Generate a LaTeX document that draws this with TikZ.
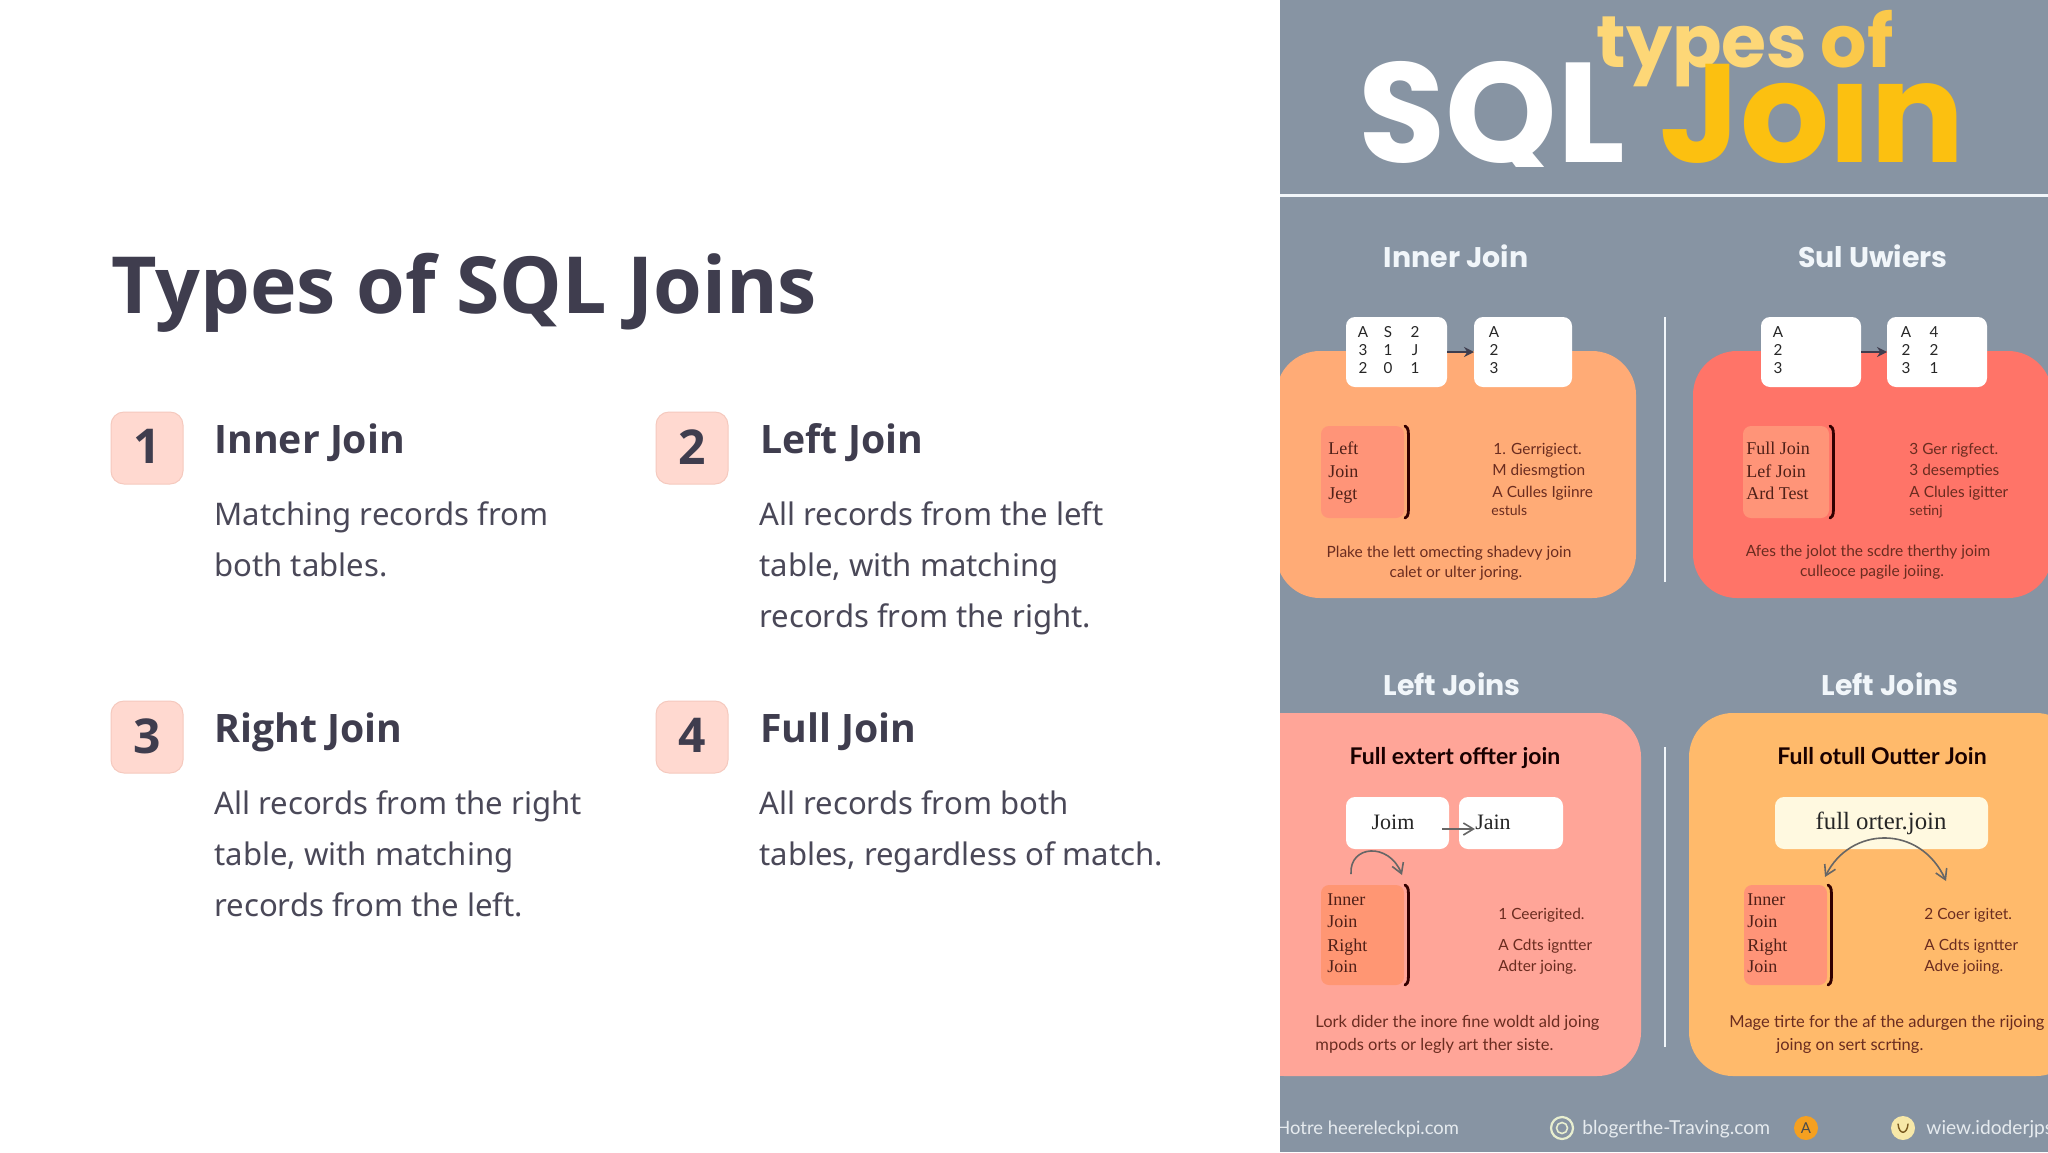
\documentclass[tikz,border=0pt]{standalone}
\usepackage{fontspec}
\usetikzlibrary{fit,arrows.meta,calc}
\setmainfont{Noto Sans}
\newfontfamily\boldf{Open Sans}
\newfontfamily\popf{Poppins}
\newfontfamily\latof{Lato}
\newfontfamily\serf{Liberation Serif}
\definecolor{slate}{HTML}{8794A3}
\definecolor{ink}{HTML}{3F3D4E}
\definecolor{bodyink}{HTML}{4A4858}
\definecolor{badgefill}{HTML}{FFD9D0}
\definecolor{badgeline}{HTML}{F5C9BE}
\definecolor{maroon}{HTML}{6A2C20}
\definecolor{tabink}{HTML}{4F2018}
\definecolor{headwhite}{HTML}{F1F6FA}
\definecolor{footink}{HTML}{E6EBEF}
\definecolor{cardA}{HTML}{FFAB76}
\definecolor{cardB}{HTML}{FF7468}
\definecolor{cardC}{HTML}{FFA598}
\definecolor{cardD}{HTML}{FFBA6B}
\definecolor{rectA}{HTML}{FF9478}
\definecolor{rectB}{HTML}{FF9478}
\definecolor{rectC}{HTML}{FF9673}
\definecolor{rectD}{HTML}{FF9478}
\definecolor{joinyel}{HTML}{FCC010}
\definecolor{typesyel}{HTML}{FDD777}
\definecolor{ofyel}{HTML}{FBC94A}
\definecolor{creambox}{HTML}{FFF9E0}
\definecolor{ringcol}{HTML}{E8EFD0}
\definecolor{orangedot}{HTML}{F5A020}
\definecolor{creamdot}{HTML}{F7E8A8}
\definecolor{smilecol}{HTML}{7A5A20}
\tikzset{
  x=0.5pt,y=-0.5pt,
  boxfit/.style={inner sep=0pt,outer sep=0pt,rectangle},
  card/.style={boxfit,rounded corners=22pt},
  wbox/.style={boxfit,fill=white,rounded corners=4.5pt},
  redrect/.style={boxfit,rounded corners=4pt},
  badge/.style={rectangle,rounded corners=6.5pt,fill=badgefill,draw=badgeline,line width=0.5pt,
    minimum width=36pt,minimum height=36pt,inner sep=0pt,text=ink,
    font=\boldf\fontsize{24}{24}\selectfont\bfseries},
  itemhead/.style={anchor=base west,inner sep=0pt,text=ink,font=\boldf\fontsize{19.6}{24}\selectfont\bfseries},
  itembody/.style={anchor=north west,inner sep=0pt,text=bodyink,align=left,
    font=\fontsize{15.55}{25.5}\selectfont},
  sechead/.style={anchor=base,inner sep=0pt,text=headwhite,font=\popf\fontsize{14.2}{16}\selectfont\bfseries},
  cardhead/.style={anchor=base,inner sep=0pt,text=black!90!red,font=\latof\fontsize{11.5}{13}\selectfont\bfseries},
  celltxt/.style={anchor=base,inner sep=0pt,text=black!85,font=\latof\fontsize{7.6}{9}\selectfont},
  lefttxt/.style={anchor=base west,inner sep=0pt,text=tabink,font=\serf\fontsize{9}{11}\selectfont},
  righttxt/.style={anchor=base west,inner sep=0pt,text=maroon,font=\latof\fontsize{7.7}{10}\selectfont},
  botc/.style={anchor=base,inner sep=0pt,text=maroon,font=\latof\fontsize{7.75}{10}\selectfont},
  botl/.style={anchor=base west,inner sep=0pt,text=maroon,font=\latof\fontsize{8.25}{10}\selectfont},
  boxtxt/.style={anchor=base,inner sep=0pt,text=black!85,font=\serf\fontsize{11}{13}\selectfont},
  foot/.style={anchor=base west,inner sep=0pt,text=footink,font=\latof\fontsize{9.6}{12}\selectfont},
  darrow/.style={-{Stealth[length=5pt,width=5pt]},draw=ink,line width=1pt},
  garrow/.style={-{Straight Barb[length=5pt,width=6pt]},draw=black!60,line width=0.8pt},
  brk/.style={draw=black!80!red,line width=1.4pt,line cap=round},
  divider/.style={draw=headwhite,line width=1.2pt},
}
\newcommand\brkt[1]{\draw[brk] ([xshift=0.5pt]#1.north east) .. controls +(4,2) and +(0,-8) .. ([xshift=2.2pt,yshift=-7pt]#1.north east) -- ([xshift=2.2pt,yshift=7pt]#1.south east) .. controls +(0,8) and +(4,-2) .. ([xshift=0.5pt]#1.south east);}
\begin{document}
\begin{tikzpicture}
\useasboundingbox (0,0) rectangle (2048,1152);
\fill[white] (0,0) rectangle (2048,1152);

% left column
\node[anchor=base west,inner sep=0pt,text=ink,font=\boldf\fontsize{39.4}{44}\selectfont\bfseries] (title) at (111,313) {Types of SQL Joins};

\node[badge] (n1) at (147,448) {\raisebox{1.3pt}{1}};
\node[itemhead] (h1) at (214,453) {Inner Join};
\node[itembody] (d1) at (214,501) {Matching records from\\both tables.};

\node[badge] (n2) at (692,448) {\raisebox{1.3pt}{2}};
\node[itemhead] (h2) at (760,453) {Left Join};
\node[itembody] (d2) at (759,501) {All records from the left\\table, with matching\\records from the right.};

\node[badge] (n3) at (147,737) {\raisebox{1.3pt}{3}};
\node[itemhead] (h3) at (214,742) {Right Join};
\node[itembody] (d3) at (214,790) {All records from the right\\table, with matching\\records from the left.};

\node[badge] (n4) at (692,737) {\raisebox{1.3pt}{4}};
\node[itemhead] (h4) at (760,742) {Full Join};
\node[itembody] (d4) at (759,790) {All records from both\\tables, regardless of match.};

% right panel
\begin{scope}
\clip (1280,0) rectangle (2048,1152);
\fill[slate] (1280,0) rectangle (2048,1152);

\node[anchor=base west,inner sep=0pt,text=typesyel,font=\popf\fontsize{36.5}{40}\selectfont\bfseries] (ttypes) at (1596,67) {types};
\begin{scope}
\clip (1340,40) rectangle (1640,166);
\node[anchor=base west,inner sep=0pt,text=white,font=\popf\fontsize{71}{80}\selectfont\bfseries] (tsql) at (1358,162) {SQL};
\end{scope}
\begin{scope}
\clip (1640,40) rectangle (1832,170) (1832,79) rectangle (1980,170);
\node[anchor=base west,inner sep=0pt,text=joinyel,font=\popf\fontsize{70}{80}\selectfont\bfseries] (tjoin) at (1659,162) {Join};
\end{scope}
\node[anchor=base east,inner sep=0pt,text=ofyel,font=\popf\fontsize{36.5}{40}\selectfont\bfseries] (tof) at (1894,67) {of};
\draw[draw=headwhite,line width=1.5pt] (1280,195) -- (2048,195);

% section headings
\node[sechead] (s1) at (1456,267) {Inner Join};
\node[sechead] (s2) at (1873,267) {Sul Uwiers};
\node[sechead] (s3) at (1452,695) {Left Joins};
\node[sechead] (s4) at (1890,695) {Left Joins};

\draw[divider] (1665,317) -- (1665,582);
\draw[divider] (1665,747) -- (1665,1047);

% card A
\node[card,fill=cardA,fit={(1276,351) (1636,598)}] (ca) {};
\node[wbox,fit={(1346,317) (1447,387)}] (ba1) {};
\node[wbox,fit={(1474,317) (1572,387)}] (ba2) {};
\draw[darrow] (ba1.east) -- (ba2.west);
\foreach \t/\x/\y/\k in {A/1363/337/a,S/1388/337/b,2/1415/337/c,3/1363/355/d,1/1388/355/e,J/1415/355/f,2/1363/373/g,0/1388/373/h,1/1415/373/i,A/1494/337/j,2/1494/355/k,3/1494/373/l}
  \node[celltxt] (a\k) at (\x,\y) {\t};
\node[redrect,fill=rectA,fit={(1321,426) (1404,518)}] (ra) {};
\brkt{ra}
\node[lefttxt] (la1) at (1328,454) {Left};
\node[lefttxt] (la2) at (1328,477) {Join};
\node[lefttxt] (la3) at (1328,499) {Jegt};
\node[righttxt] (ta1) at (1493,454) {1. Gerrigiect.};
\node[righttxt] (ta2) at (1492,475) {M diesmgtion};
\node[righttxt] (ta3) at (1492,497) {A Culles Igiinre};
\node[righttxt,font=\latof\fontsize{7}{9}\selectfont] (ta4) at (1491,515) {estuls};
\node[botc] (pa1) at (1449,557) {Plake the lett omecting shadevy join};
\node[botc] (pa2) at (1456,577) {calet or ulter joring.};

% card B
\node[card,fill=cardB,fit={(1693,351) (2052,598)}] (cb) {};
\node[wbox,fit={(1761,317) (1861,387)}] (bb1) {};
\node[wbox,fit={(1887,317) (1987,387)}] (bb2) {};
\draw[darrow] (bb1.east) -- (bb2.west);
\foreach \t/\x/\y/\k in {A/1778/337/a,2/1778/355/b,3/1778/373/c,A/1906/337/d,4/1934/337/e,2/1906/355/f,2/1934/355/g,3/1906/373/h,1/1934/373/i}
  \node[celltxt] (b\k) at (\x,\y) {\t};
\node[redrect,fill=rectB,fit={(1743,426) (1829,518)}] (rb) {};
\brkt{rb}
\node[lefttxt] (lb1) at (1746,454) {Full Join};
\node[lefttxt] (lb2) at (1746,477) {Lef Join};
\node[lefttxt] (lb3) at (1746,499) {Ard Test};
\node[righttxt] (tb1) at (1909,454) {3 Ger rigfect.};
\node[righttxt] (tb2) at (1909,475) {3 desempties};
\node[righttxt] (tb3) at (1909,497) {A Clules igitter};
\node[righttxt,font=\latof\fontsize{7}{9}\selectfont] (tb4) at (1909,515) {setinj};
\node[botc] (pb1) at (1868,556) {Afes the jolot the scdre therthy joim};
\node[botc] (pb2) at (1872,576) {culleoce pagile joiing.};

% card C
\node[card,fill=cardC,fit={(1240,713) (1641,1076)}] (cc) {};
\node[cardhead] (hc) at (1455,764) {Full extert offter join};
\node[wbox,fit={(1346,797) (1449,849)}] (bc1) {};
\node[wbox,fit={(1459,797) (1563,849)}] (bc2) {};
\node[boxtxt] (jc1) at (1393,829) {Joim};
\node[boxtxt] (jc2) at (1493,829) {Jain};
\coordinate (ac1) at (1442,829);
\draw[garrow] (ac1) -- (jc2.west |- ac1);
\node[redrect,fill=rectC,fit={(1321,885) (1404,985)}] (rc) {};
\brkt{rc}
\coordinate (cs) at (1351,874);
\coordinate (ce) at (1402,875);
\draw[garrow] (cs) .. controls (1349,845) and (1389,842) .. (ce);
\node[lefttxt] (lc1) at (1327,905) {Inner};
\node[lefttxt] (lc2) at (1327,927) {Join};
\node[lefttxt] (lc3) at (1327,951) {Right};
\node[lefttxt] (lc4) at (1327,972) {Join};
\node[righttxt] (tc1) at (1498,919) {1 Ceerigited.};
\node[righttxt] (tc2) at (1498,950) {A Cdts igntter};
\node[righttxt] (tc3) at (1498,971) {Adter joing.};
\node[botl] (pc1) at (1315,1027) {Lork dider the inore fine woldt ald joing};
\node[botl] (pc2) at (1315,1050) {mpods orts or legly art ther siste.};

% card D
\node[card,fill=cardD,fit={(1689,713) (2080,1076)}] (cd) {};
\node[cardhead] (hd) at (1882,764) {Full otull Outter Join};
\node[wbox,fill=creambox,fit={(1775,797) (1988,849)}] (bd) {};
\node[boxtxt,font=\serf\fontsize{12.4}{14}\selectfont] (jd) at (1881,829) {full orter.join};
\node[redrect,fill=rectD,fit={(1744,885) (1827,985)}] (rd) {};
\brkt{rd}
\coordinate (ds) at (1825,877);
\coordinate (de) at (1946,881);
\draw[garrow,{Straight Barb[length=5pt,width=6pt]}-{Straight Barb[length=5pt,width=6pt]}] (ds) .. controls (1850,826) and (1920,824) .. (de);
\node[lefttxt] (ld1) at (1747,905) {Inner};
\node[lefttxt] (ld2) at (1747,927) {Join};
\node[lefttxt] (ld3) at (1747,951) {Right};
\node[lefttxt] (ld4) at (1747,972) {Join};
\node[righttxt] (td1) at (1924,919) {2 Coer igitet.};
\node[righttxt] (td2) at (1924,950) {A Cdts igntter};
\node[righttxt] (td3) at (1924,971) {Adve joiing.};
\node[botl] (pd1) at (1729,1027) {Mage tirte for the af the adurgen the rijoing};
\node[botl] (pd2) at (1776,1050) {joing on sert scrting.};

% footer
\node[foot,font=\latof\fontsize{9.2}{12}\selectfont] (f1) at (1276,1134) {Hotre heereleckpi.com};
\node[circle,draw=ringcol,line width=1.1pt,minimum size=11pt,inner sep=0pt] (ic1) at (1562,1128) {};
\node[circle,draw=ringcol,line width=0.8pt,minimum size=5.5pt,inner sep=0pt] (ic1b) at (1562,1128) {};
\node[foot] (f2) at (1582,1134) {blogerthe-Traving.com};
\node[circle,fill=orangedot,minimum size=12pt,inner sep=0pt,text=black!70,font=\latof\fontsize{7.5}{9}\selectfont] (ic2) at (1806,1128) {A};
\node[circle,fill=creamdot,minimum size=12pt,inner sep=0pt] (ic3) at (1903,1128) {};
\draw[draw=smilecol,line width=0.7pt,line cap=round] (1898,1124) .. controls (1899,1135) and (1907,1135) .. (1908,1124);
\node[foot] (f3) at (1926,1134) {wiew.idoderjps};
\end{scope}
\end{tikzpicture}
\end{document}
